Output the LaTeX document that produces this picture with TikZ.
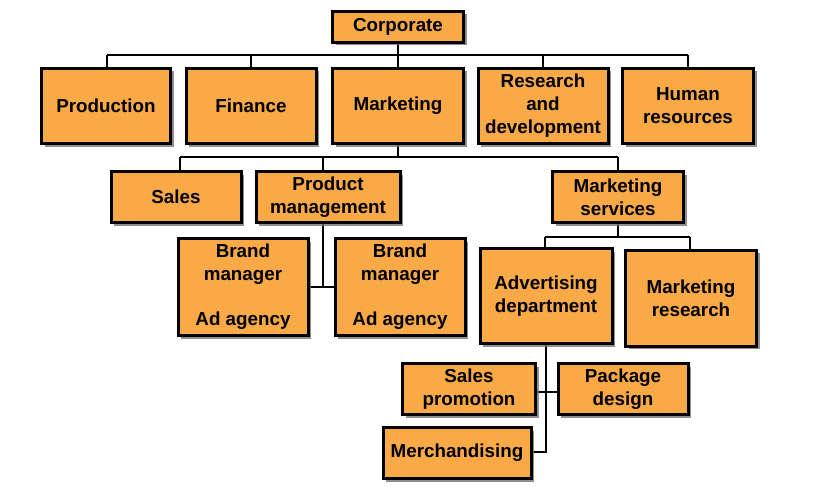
\documentclass[tikz,border=0pt]{standalone}
\usepackage{fontspec}
\setmainfont{Liberation Sans}
\usetikzlibrary{shadows}
\definecolor{boxor}{HTML}{F9A945}
\tikzset{
  box/.style={draw=black, line width=3pt, fill=boxor, align=center, inner sep=1pt,
    font=\bfseries\fontsize{18.8}{23}\selectfont,
    drop shadow={shadow xshift=3pt, shadow yshift=-3pt, fill=black!55, opacity=0.8}},
  conn/.style={draw=black, line width=2.5pt}
}
\newcommand{\bx}[6]{\node[box, minimum width=#3pt, minimum height=#4pt] (#1) at (#2) {#6};}
\begin{document}
\begin{tikzpicture}[x=1pt,y=-1pt]
\useasboundingbox (0,0) rectangle (813,492);
% connectors first (behind)
\coordinate (t1) at (398,55);
\draw[conn] (398,27) -- (t1);
\draw[conn] (107,55) -- (688,55);
\foreach \x in {107,251,398,543,688} \draw[conn] (\x,55) -- (\x,106);
\draw[conn] (398,106) -- (398,157);
\draw[conn] (180,157) -- (618,157);
\foreach \x in {180,323,618} \draw[conn] (\x,157) -- (\x,197);
\draw[conn] (323,197) -- (323,287);
\draw[conn] (243,287) -- (400,287);
\draw[conn] (618,197) -- (618,237);
\draw[conn] (545,237) -- (690,237);
\draw[conn] (545,237) -- (545,296);
\draw[conn] (690,237) -- (690,298);
\draw[conn] (546,296) -- (546,452) -- (458,452);
\draw[conn] (469,392) -- (623,392);
% boxes
\bx{corp}{398,27}{131}{31}{}{Corporate}
\bx{prod}{106,106}{129}{75}{}{Production}
\bx{fin}{251,106}{130}{75}{}{Finance}
\bx{mkt}{398,106}{131}{75}{}{Marketing}
\bx{rd}{543,106}{130}{75}{}{Research\\and\\development}
\bx{hr}{688,106}{131}{75}{}{Human\\resources}
\bx{sales}{176,197}{130}{51}{}{Sales}
\bx{pm}{328,197}{144}{51}{}{Product\\management}
\bx{ms}{618,197}{131}{51}{}{Marketing\\services}
\bx{bm1}{243,287}{130}{97}{}{Brand\\manager\\[22pt]Ad agency}
\bx{bm2}{400,287}{130}{97}{}{Brand\\manager\\[22pt]Ad agency}
\bx{adv}{546,296}{132}{95}{}{Advertising\\department}
\bx{mr}{691,298}{131}{96}{}{Marketing\\research}
\bx{sp}{469,389}{133}{51}{}{Sales\\promotion}
\bx{pd}{623,389}{130}{51}{}{Package\\design}
\bx{mer}{457,453}{148}{51}{}{Merchandising}
\end{tikzpicture}
\end{document}
